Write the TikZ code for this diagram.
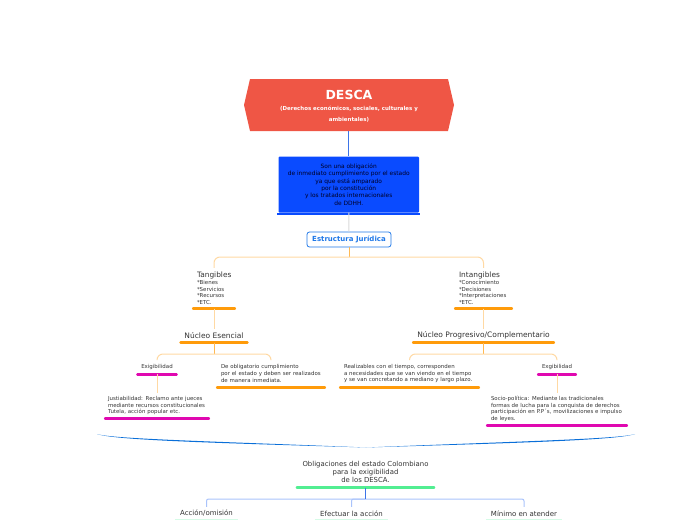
\documentclass[tikz,border=0pt]{standalone}
\usepackage{fontspec}
\setmainfont{DejaVu Sans}
\usetikzlibrary{shapes.symbols}
\definecolor{descared}{HTML}{EF5645}
\definecolor{boxblue}{HTML}{0A4BFF}
\definecolor{stemblue}{HTML}{3D74E8}
\definecolor{paleblue}{HTML}{A9C3FB}
\definecolor{juridblue}{HTML}{1F78E8}
\definecolor{braceblue}{HTML}{0A6FD8}
\definecolor{lineorange}{HTML}{FF9B0A}
\definecolor{paleorange}{HTML}{FFD9A3}
\definecolor{linepink}{HTML}{E008B0}
\definecolor{linegreen}{HTML}{52EE92}
\definecolor{palegreen}{HTML}{D5FBE6}
\definecolor{textgray}{HTML}{333333}
\tikzset{
  small/.style={font=\fontsize{5.45}{6.6}\selectfont, text=textgray, inner sep=0pt, inner xsep=5pt},
  topic/.style={small, align=left},
  subtopic/.style={small, align=center},
  head/.style={subtopic, font=\fontsize{7.5}{9}\selectfont},
  bottomtopic/.style={subtopic, font=\fontsize{7}{8}\selectfont, minimum height=12.5pt},
  uline/.style={line width=2.6pt, line cap=round, shorten >=1.3pt, shorten <=1.3pt},
  conn/.style={paleorange, line width=1pt, rounded corners=6pt},
  connblue/.style={paleblue, line width=1pt, rounded corners=2pt}
}
\begin{document}
\begin{tikzpicture}[x=1pt,y=-1pt]
    \useasboundingbox (0,0) rectangle (697,520);

    \node[signal, signal to=west and east, signal pointer angle=154, fill=descared, inner sep=0pt,
          minimum width=210pt, minimum height=52pt] (desca) at (349,105) {};
    \node[text=white, font=\bfseries\fontsize{12.5}{14}\selectfont, inner sep=0pt] (titulo) at (349,95) {DESCA};
    \node[text=white, align=center, font=\bfseries\fontsize{5.45}{11}\selectfont, inner sep=0pt] (subtitulo) at (349,114.5)
        {(Derechos económicos, sociales, culturales y\\ambientales)};
    \node[fill=boxblue, rounded corners=1pt, align=center, text=black!85!blue, inner sep=0pt, minimum width=140.5pt, minimum height=56pt,
          font=\fontsize{5.9}{7.45}\selectfont] (obligacion) at (348.75,184.5)
        {Son una obligación\\de inmediato cumplimiento por el estado\\ya que está amparado\\por la constitución\\y los tratados internacionales\\de DDHH.};
    \node[draw=juridblue, fill=white, rounded corners=2.5pt, line width=0.8pt, text=juridblue, inner sep=0pt,
          minimum width=84pt, minimum height=15pt, font=\bfseries\fontsize{7}{8}\selectfont] (estructura) at (349,239.5) {Estructura Jurídica};

    \node[topic, text width=34pt, minimum height=40.5pt] (tang) at (214,288.25)
        {{\fontsize{7.4}{8}\selectfont Tangibles}\\{}*Bienes\\{}*Servicios\\{}*Recursos\\{}*ETC.};
    \node[topic, text width=49pt, minimum height=40.5pt] (intang) at (483.5,288.25)
        {{\fontsize{7.4}{8}\selectfont Intangibles}\\{}*Conocimiento\\{}*Decisiones\\{}*Interpretaciones\\{}*ETC.};
    \node[head, minimum width=68pt, minimum height=13.5pt] (nesencial) at (214,335.75) {Núcleo Esencial};
    \node[head, minimum width=143pt, minimum height=13.5pt] (nprogresivo) at (483.5,335.75) {Núcleo Progresivo/Complementario};

    \node[subtopic, minimum width=40pt, minimum height=14pt] (exigizq) at (157,367) {Exigibilidad};
    \node[topic, text width=100pt, minimum height=27pt] (obligatorio) at (271,373.5)
        {De obligatorio cumplimiento\\por el estado y deben ser realizados\\de manera inmediata.};
    \node[topic, inner xsep=4pt, text width=98pt, minimum height=25.5pt] (justi) at (157,405.75)
        {Justiabilidad: Reclamo ante jueces\\mediante recursos constitucionales\\Tutela, acción popular etc.};
    \node[topic, text width=131pt, minimum height=27pt] (realizables) at (409.5,373.5)
        {Realizables con el tiempo, corresponden\\a necesidades que se van viendo en el tiempo\\y se van concretando a mediano y largo plazo.};
    \node[subtopic, minimum width=40pt, minimum height=14pt] (exigder) at (557,367) {Exgibilidad};
    \node[topic, text width=132pt, minimum height=32pt] (socio) at (557,409)
        {Socio-política: Mediante las tradicionales\\formas de lucha para la conquista de derechos\\participación en P.P´s, movilizaciones e impulso\\de leyes.};

    \node[subtopic, font=\fontsize{6.9}{8.1}\selectfont, minimum width=139.5pt, minimum height=31.5pt] (estado) at (365.5,471.75)
        {Obligaciones del estado Colombiano\\para la exigibilidad\\de los DESCA.};
    \node[bottomtopic, minimum width=61pt] (accion) at (206.5,513.25) {Acción/omisión};
    \node[bottomtopic, minimum width=71pt] (efectuar) at (351.5,513.25) {Efectuar la acción};
    \node[bottomtopic, minimum width=75pt] (minimo) at (524,513.25) {Mínimo en atender};

    % underlines
    \draw[boxblue, line width=2pt] ([xshift=-1pt,yshift=-1pt]obligacion.south west) -- ([xshift=1pt,yshift=-1pt]obligacion.south east);
    \foreach \n in {tang,intang,nesencial,nprogresivo,obligatorio,realizables}
        \draw[uline, lineorange] (\n.south west) -- (\n.south east);
    \foreach \n in {exigizq,justi,exigder,socio}
        \draw[uline, linepink] (\n.south west) -- (\n.south east);
    \draw[uline, linegreen] (estado.south west) -- (estado.south east);
    \foreach \n in {accion,efectuar,minimo}
        \draw[palegreen, line width=1pt] (\n.south west) -- (\n.south east);

    % connectors
    \coordinate (jraiz) at (349,257);
    \coordinate (jizq) at (214,354);
    \coordinate (jder) at (483.5,354);
    \coordinate (jest) at (365.5,499);
    \draw[stemblue, line width=1pt] (desca.south -| obligacion.north) -- (obligacion.north);
    \draw[black!15, line width=1pt] (obligacion.south) -- (estructura.north);
    \draw[lineorange!70, line width=1pt] (estructura.south) -- (jraiz);
    \draw[conn] (jraiz) -| (tang.north);
    \draw[conn] (jraiz) -| (intang.north);
    \draw[conn] (tang.south) -- (nesencial.north);
    \draw[conn] (intang.south) -- (nprogresivo.north);
    \draw[lineorange!70, line width=1pt] (nesencial.south) -- (jizq);
    \draw[lineorange!70, line width=1pt] (nprogresivo.south) -- (jder);
    \draw[conn] (jizq) -| (exigizq.north);
    \draw[conn] (jizq) -| (obligatorio.north);
    \draw[conn] (jder) -| (realizables.north);
    \draw[conn] (jder) -| (exigder.north);
    \draw[conn] (exigizq.south) -- (justi.north);
    \draw[conn] (exigder.south) -- (socio.north);
    \draw[connblue] (jest) -| (accion.north);
    \draw[connblue] (jest) -| (efectuar.north);
    \draw[connblue] (jest) -| (minimo.north);
    \draw[stemblue, line width=1pt] (estado.south) -- (jest);

    % brace
    \coordinate (bizq) at (97,434);
    \coordinate (bder) at (635,434);
    \coordinate (bpico) at (366,447.5);
    \fill[braceblue] (bizq) .. controls (112,439) and (220,441.5) .. (bpico)
        .. controls (225,443.2) and (115,440.5) .. (bizq);
    \fill[braceblue] (bder) .. controls (620,439) and (512,441.5) .. (bpico)
        .. controls (507,443.2) and (617,440.5) .. (bder);
\end{tikzpicture}
\end{document}
